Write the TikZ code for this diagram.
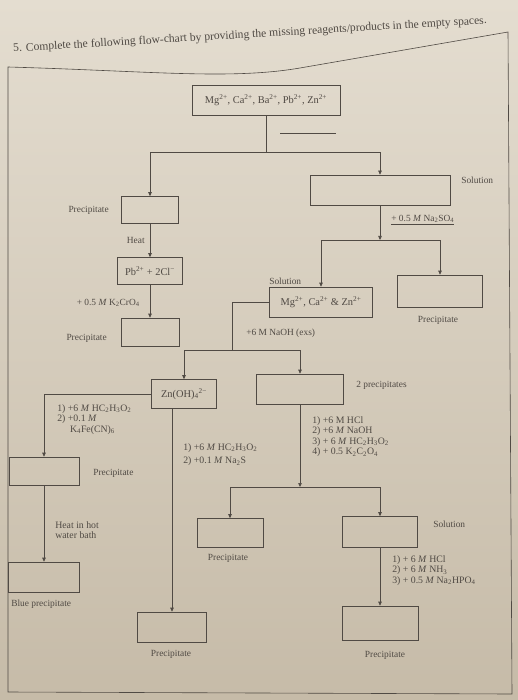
\documentclass[tikz,border=0pt]{standalone}
\usepackage{fontspec}
\setmainfont{Liberation Serif}
\usetikzlibrary{arrows.meta,positioning}

\definecolor{paperlight}{RGB}{228,221,208}
\definecolor{paperdark}{RGB}{198,187,168}
\definecolor{ink}{RGB}{80,74,68}

\newcommand{\chsub}[1]{\textsubscript{#1}}
\newcommand{\chsup}[1]{\textsuperscript{#1}}

\begin{document}
\begin{tikzpicture}[x=1pt,y=-1pt,line width=0.6pt,draw=ink,
    every node/.style={font=\fontsize{9.4}{10.5}\selectfont,text=ink,inner sep=1pt},
    box/.style={draw=ink,minimum height=28pt,inner sep=2pt,font=\fontsize{10.4}{12}\selectfont},
    arr/.style={-{Triangle[length=4pt,width=3.5pt]}},
    lbl/.style={align=left,inner sep=0pt,font=\fontsize{9.8}{10.5}\selectfont}]
    \shade[top color=paperlight,bottom color=paperdark] (0,0) rectangle (518,700);
    \useasboundingbox (0,0) rectangle (518,700);

    % sheet
    \node[rotate=3.4,font=\fontsize{11.6}{13}\selectfont] (title) at (250,35)
        {5. Complete the following flow-chart by providing the missing reagents/products in the empty spaces.};
    \draw (512,694) -- (8,692) -- (8,67) .. controls (150,71) and (230,80) .. (300,68) -- (508,32) -- cycle;

    % cations
    \node[box,minimum width=148pt,minimum height=30pt] (ions) at (266,100)
        {Mg\chsup{2+}, Ca\chsup{2+}, Ba\chsup{2+}, Pb\chsup{2+}, Zn\chsup{2+}};
    \coordinate (split1) at (266,152);
    \draw (ions) -- (split1);
    \draw (280,133) -- (336,133);

    % left: chloride group
    \node[box,minimum width=57pt,minimum height=27pt] (pptA) at (150,210) {};
    \node[box,minimum width=140pt,minimum height=30pt] (solA) at (380,190) {};
    \draw[arr] (split1) -| (pptA);
    \draw[arr] (split1) -| (solA);
    \node[anchor=east] (pptAlbl) at (110,210) {Precipitate};
    \node[anchor=west] (solAlbl) at (460,180) {Solution};

    \node[box,minimum width=65pt,minimum height=27pt] (pbcl) at (150,271)
        {Pb\chsup{2+} + 2Cl\chsup{−}};
    \draw[arr] (pptA) -- node[left=4pt] (heatlbl) {Heat} (pbcl);
    \node[box,minimum width=58pt,minimum height=28pt] (chromate) at (150,332) {};
    \draw[arr] (pbcl) -- node[left=9pt,pos=0.55] (cro4lbl)
        {+ 0.5 \textit{M} K\chsub{2}CrO\chsub{4}} (chromate);
    \node[anchor=east] (chromlbl) at (108,338) {Precipitate};

    % right: sulfate
    \coordinate (split2) at (380,240);
    \draw[arr] (solA) -- (split2);
    \node[anchor=west] (so4lbl) at (390,220) {\underline{+ 0.5 \textit{M} Na\chsub{2}SO\chsub{4}}};
    \node[box,minimum width=103pt,minimum height=30pt] (mgcazn) at (321,302)
        {Mg\chsup{2+}, Ca\chsup{2+} \& Zn\chsup{2+}};
    \node[box,minimum width=85pt,minimum height=32pt] (sulfate) at (440,291) {};
    \draw[arr] (split2) -| (mgcazn);
    \draw[arr] (split2) -| (sulfate);
    \node[anchor=west] (solBlbl) at (268,281) {Solution};
    \node (sulfatelbl) at (438,320) {Precipitate};

    % hydroxide
    \coordinate (split3) at (232,350);
    \draw (mgcazn.west) -| (split3);
    \node[anchor=west] (naohlbl) at (245,333) {+6 M NaOH (exs)};
    \node[box,minimum width=65pt,minimum height=29pt] (znbox) at (184,394)
        {Zn(OH)\chsub{4}\chsup{2−}};
    \node[box,minimum width=87pt,minimum height=30pt] (twoppt) at (300,389) {};
    \draw[arr] (split3) -| (znbox);
    \draw[arr] (split3) -| (twoppt);
    \node[anchor=west] (twolbl) at (355,385) {2 precipitates};

    % zinc tests
    \node[box,minimum width=70pt,minimum height=28pt] (fecn) at (44,471) {};
    \draw[arr] (znbox.west) -| (fecn);
    \node[lbl,anchor=north west] (fecnlbl) at (57,404)
        {1) +6 \textit{M} HC\chsub{2}H\chsub{3}O\chsub{2}\\2) +0.1 \textit{M}\\\hspace{1.3em}K\chsub{4}Fe(CN)\chsub{6}};
    \node[anchor=west] (fecnppt) at (92,473) {Precipitate};
    \node[box,minimum width=71pt,minimum height=30pt] (blue) at (44,577) {};
    \draw[arr] (fecn) -- (blue);
    \node[lbl,anchor=north west] (hotlbl) at (55,521) {Heat in hot\\water bath};
    \node[anchor=west] (bluelbl) at (10,604) {Blue precipitate};

    \node[box,minimum width=69pt,minimum height=30pt] (zns) at (172,627) {};
    \draw[arr] (zns.north |- znbox.south) -- (zns);
    \node[lbl,anchor=north west] (znslbl) at (183,443)
        {1) +6 \textit{M} HC\chsub{2}H\chsub{3}O\chsub{2}\\[3pt]2) +0.1 \textit{M} Na\chsub{2}S};
    \node (znsppt) at (171,654) {Precipitate};

    % magnesium / calcium
    \coordinate (split4) at (300,487);
    \draw[arr] (twoppt) -- (split4);
    \node[lbl,anchor=north west] (twosteps) at (312,416)
        {1) +6 M HCl\\2) +6 \textit{M} NaOH\\3) + 6 \textit{M} HC\chsub{2}H\chsub{3}O\chsub{2}\\4) + 0.5 K\chsub{2}C\chsub{2}O\chsub{4}};
    \node[box,minimum width=66pt,minimum height=29pt] (mgox) at (230,533) {};
    \node[box,minimum width=75pt,minimum height=31pt] (solmg) at (380,532) {};
    \draw[arr] (split4) -| (mgox);
    \draw[arr] (split4) -| (solmg);
    \node (mgoxppt) at (228,558) {Precipitate};
    \node[anchor=west] (solmglbl) at (432,524) {Solution};

    \node[box,minimum width=76pt,minimum height=34pt] (mgp) at (380,623) {};
    \draw[arr] (solmg) -- (mgp);
    \node[lbl,anchor=north west] (mgplbl) at (392,555)
        {1) + 6 \textit{M} HCl\\2) + 6 \textit{M} NH\chsub{3}\\3) + 0.5 \textit{M} Na\chsub{2}HPO\chsub{4}};
    \node (mgpppt) at (385,655) {Precipitate};
\end{tikzpicture}
\end{document}
